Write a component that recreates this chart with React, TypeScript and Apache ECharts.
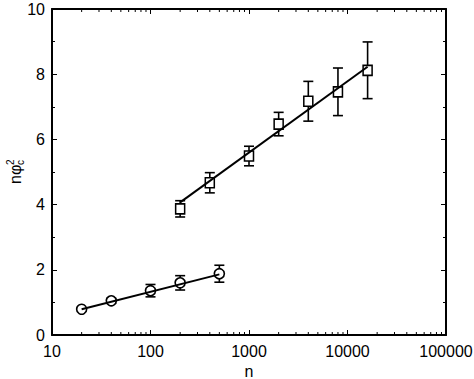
import React, { useEffect, useRef } from "react";
import * as echarts from "echarts";

// Circles series (n, value, error)
const circleN = [20, 40, 100, 200, 500];
const circleY = [0.79, 1.05, 1.36, 1.6, 1.88];
const circleErr = [0.04, 0.07, 0.19, 0.22, 0.26];

// Squares series (n, value, error)
const squareN = [200, 400, 1000, 2000, 4000, 8000, 16000];
const squareY = [3.87, 4.67, 5.49, 6.47, 7.17, 7.46, 8.12];
const squareErr = [0.25, 0.31, 0.3, 0.36, 0.61, 0.73, 0.87];

// Fitted straight lines (end points)
const circleFitN = [20, 500];
const circleFitY = [0.79, 1.86];
const squareFitN = [200, 16000];
const squareFitY = [4.07, 8.23];

// Tick labels
const xTickLabels = ["10", "100", "1000", "10000", "100000"];
const yTickLabels = ["0", "2", "4", "6", "8", "10"];

const FONT = "'Liberation Sans', Arial, Helvetica, sans-serif";

export default function App() {
  const ref = useRef<HTMLDivElement>(null);

  useEffect(() => {
    document.body.style.margin = "0";
    if (!ref.current) return;
    const chart = echarts.init(ref.current, undefined, { renderer: "svg" });

    // minor tick positions on the log axis (2..9 within each decade)
    const minorX: number[][] = [];
    for (let d = 10; d < 100000; d *= 10) {
      for (let k = 2; k <= 9; k++) minorX.push([k * d, 0]);
    }

    const errData = (ns: number[], ys: number[], es: number[]) =>
      ns.map((n, i) => [n, ys[i] - es[i], ys[i] + es[i]]);

    const errRender = (params: any, api: any) => {
      const x = api.value(0);
      const lo = api.coord([x, api.value(1)]);
      const hi = api.coord([x, api.value(2)]);
      const hw = 5;
      const st = { stroke: "#000", lineWidth: 1.6 };
      return {
        type: "group",
        children: [
          { type: "line", shape: { x1: lo[0], y1: lo[1], x2: hi[0], y2: hi[1] }, style: st },
          { type: "line", shape: { x1: lo[0] - hw, y1: lo[1], x2: lo[0] + hw, y2: lo[1] }, style: st },
          { type: "line", shape: { x1: hi[0] - hw, y1: hi[1], x2: hi[0] + hw, y2: hi[1] }, style: st },
        ],
      };
    };

    const tickRender = (params: any, api: any) => {
      const v = api.value(0);
      const b = api.coord([v, 0]);
      const t = api.coord([v, 10]);
      const st = { stroke: "#000", lineWidth: 1 };
      return {
        type: "group",
        children: [
          { type: "line", shape: { x1: b[0], y1: b[1], x2: b[0], y2: b[1] - 3 }, style: st },
          { type: "line", shape: { x1: t[0], y1: t[1], x2: t[0], y2: t[1] + 3 }, style: st },
        ],
      };
    };

    const axisLine = { show: true, onZero: false, lineStyle: { color: "#000", width: 2 } };

    chart.setOption({
      animation: false,
      grid: { left: 52, right: 28, top: 9, bottom: 44, containLabel: false, outerBoundsMode: "none" },
      xAxis: [
        {
          type: "log",
          logBase: 10,
          min: 10,
          max: 100000,
          position: "bottom",
          axisLine,
          axisTick: { show: true, inside: true, length: 5, lineStyle: { color: "#000", width: 1 } },
          axisLabel: {
            color: "#000",
            fontSize: 16,
            fontFamily: FONT,
            margin: 8,
            formatter: (_v: number, i: number) => xTickLabels[i],
          },
          splitLine: { show: false },
          name: "n",
          nameLocation: "middle",
          nameGap: 25,
          nameTextStyle: { color: "#000", fontSize: 16, fontFamily: FONT },
        },
        {
          type: "log",
          logBase: 10,
          min: 10,
          max: 100000,
          position: "top",
          axisLine,
          axisTick: { show: true, inside: true, length: 5, lineStyle: { color: "#000", width: 1 } },
          axisLabel: { show: false },
          splitLine: { show: false },
        },
      ],
      yAxis: [
        {
          type: "value",
          min: 0,
          max: 10,
          interval: 2,
          position: "left",
          axisLine,
          axisTick: { show: true, inside: true, length: 5, lineStyle: { color: "#000", width: 1 } },
          minorTick: { show: true, splitNumber: 2, length: 3, lineStyle: { color: "#000", width: 1 } },
          axisLabel: {
            color: "#000",
            fontSize: 16,
            fontFamily: FONT,
            margin: 7,
            formatter: (_v: number, i: number) => yTickLabels[i],
          },
          splitLine: { show: false },
        },
        {
          type: "value",
          min: 0,
          max: 10,
          interval: 2,
          position: "right",
          axisLine,
          axisTick: { show: true, inside: true, length: 5, lineStyle: { color: "#000", width: 1 } },
          minorTick: { show: true, splitNumber: 2, length: 3, lineStyle: { color: "#000", width: 1 } },
          axisLabel: { show: false },
          splitLine: { show: false },
        },
      ],
      graphic: [
        {
          type: "group",
          x: 15,
          y: 167,
          rotation: Math.PI / 2,
          children: [
            {
              type: "text",
              x: -17,
              y: 0,
              style: { text: "nφ", fontSize: 16, fontFamily: FONT, fill: "#000", textVerticalAlign: "middle", textAlign: "left" },
            },
            {
              type: "text",
              x: 2,
              y: -5,
              style: { text: "2", fontSize: 10, fontFamily: FONT, fill: "#000", textVerticalAlign: "middle", textAlign: "left" },
            },
            {
              type: "text",
              x: 2,
              y: 5,
              style: { text: "c", fontSize: 10, fontFamily: FONT, fill: "#000", textVerticalAlign: "middle", textAlign: "left" },
            },
          ],
        },
      ],
      series: [
        {
          type: "custom",
          name: "minorTicks",
          silent: true,
          renderItem: tickRender,
          data: minorX,
          encode: { x: 0, y: 1 },
          z: 1,
        },
        {
          type: "custom",
          name: "errCircle",
          renderItem: errRender,
          data: errData(circleN, circleY, circleErr),
          encode: { x: 0, y: [1, 2] },
          z: 2,
        },
        {
          type: "custom",
          name: "errSquare",
          renderItem: errRender,
          data: errData(squareN, squareY, squareErr),
          encode: { x: 0, y: [1, 2] },
          z: 2,
        },
        {
          type: "scatter",
          name: "circles",
          symbol: "circle",
          symbolSize: 10,
          data: circleN.map((n, i) => [n, circleY[i]]),
          itemStyle: { color: "#fff", borderColor: "#000", borderWidth: 1.6, opacity: 1 },
          z: 3,
        },
        {
          type: "scatter",
          name: "squares",
          symbol: "rect",
          symbolSize: [9, 10],
          data: squareN.map((n, i) => [n, squareY[i]]),
          itemStyle: { color: "#fff", borderColor: "#000", borderWidth: 1.6, opacity: 1 },
          z: 3,
        },
        {
          type: "line",
          name: "fitCircle",
          showSymbol: false,
          data: circleFitN.map((n, i) => [n, circleFitY[i]]),
          lineStyle: { color: "#000", width: 2 },
          z: 4,
        },
        {
          type: "line",
          name: "fitSquare",
          showSymbol: false,
          data: squareFitN.map((n, i) => [n, squareFitY[i]]),
          lineStyle: { color: "#000", width: 2 },
          z: 4,
        },
      ],
    });

    return () => chart.dispose();
  }, []);

  return <div ref={ref} style={{ width: 474, height: 379 }} />;
}
